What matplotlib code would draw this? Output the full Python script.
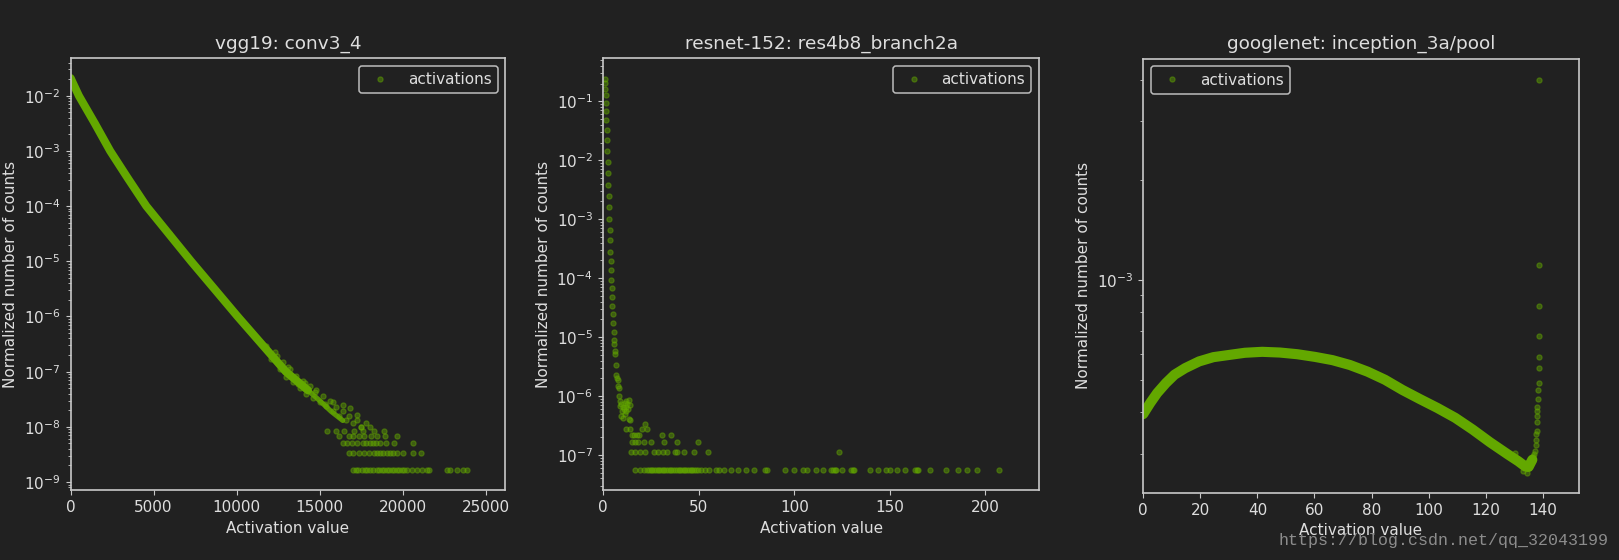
import matplotlib
matplotlib.use("Agg")
import matplotlib.pyplot as plt

# ---------------- text ----------------
titles = ["vgg19: conv3_4", "resnet-152: res4b8_branch2a", "googlenet: inception_3a/pool"]
x_label = "Activation value"
y_label = "Normalized number of counts"
legend_label = "activations"
watermark = "https://blog.csdn.net/qq_32043199"

# ---------------- panel 1: vgg19 ----------------
vgg_band_x = [0, 500, 1450, 2386, 3450, 4565, 5900, 7262, 8650, 10064, 11500, 12969, 14300]
vgg_band_y = [2.1e-2, 1.0e-2, 3.2e-3, 1.0e-3, 3.2e-4, 1.0e-4, 3.2e-5, 1.0e-5, 3.2e-6,
              1.0e-6, 3.2e-7, 1.0e-7, 4.6e-8]
vgg_band_end_x = [14300, 15000, 15700, 16400]
vgg_band_end_y = [4.6e-8, 3.0e-8, 1.9e-8, 1.3e-8]
vgg_cloud_x = [11800, 12100, 12300, 12600, 12800, 13000, 13200, 13400, 13600, 13800, 14000,
               14200, 14400, 14600, 14800, 15000, 15200, 15400, 15600, 15800, 16000, 16200,
               16400, 16600, 16800, 17000, 17250, 17500, 17800, 15790, 16390, 16830, 17270,
               17470, 18040, 12450, 13100, 13700, 14100, 14700, 15300]
vgg_cloud_y = [2.9e-7, 1.7e-7, 2.3e-7, 1.1e-7, 1.5e-7, 8.0e-8, 1.1e-7, 6.5e-8, 8.5e-8, 5.0e-8,
               6.8e-8, 4.0e-8, 5.6e-8, 3.4e-8, 4.6e-8, 2.8e-8, 3.6e-8, 2.4e-8, 3.0e-8, 1.9e-8,
               2.3e-8, 1.6e-8, 1.9e-8, 1.35e-8, 1.55e-8, 1.18e-8, 1.35e-8, 1.01e-8, 1.18e-8,
               2.84e-8, 2.48e-8, 2.17e-8, 1.65e-8, 1.01e-8, 1.01e-8, 1.9e-7, 1.2e-7, 6.0e-8,
               6.2e-8, 4.2e-8, 2.6e-8]
vgg_levels = [1.68e-9, 3.36e-9, 5.04e-9, 6.72e-9, 8.4e-9]
vgg_lvl1_x = [17032, 17180, 17333, 17530, 17735, 17880, 18036, 18240, 18438, 18600, 18739,
              18900, 19040, 19200, 19341, 19500, 19642, 19800, 19943, 20100, 20245, 20546,
              20847, 21148, 21450, 21610, 22654, 22855, 23297, 23618, 23859]
vgg_lvl2_x = [16791, 16992, 17393, 17675, 17996, 18277, 18478, 18650, 18799, 19080, 19260,
              19442, 19683, 20004, 20606, 21088]
vgg_lvl3_x = [16389, 16671, 16932, 17273, 17594, 17800, 18036, 18200, 18397, 18638, 18999,
              19482, 20646]
vgg_lvl4_x = [16169, 16751, 17000, 17400, 17700, 18100, 18478, 18940, 19683]
vgg_lvl5_x = [15466, 15968, 16500, 17100, 17600, 18277, 18879]

# ---------------- panel 2: resnet-152 ----------------
res_stack_x = [0.90, 1.08, 1.08, 1.26, 1.26, 1.44, 1.62, 1.80, 1.98, 2.16, 2.34, 2.52, 2.70,
               2.88, 3.06, 3.24, 3.42, 3.60, 3.78, 3.96, 4.14, 4.32,
               4.4, 4.5, 4.7, 4.9, 5.2, 5.4, 5.6, 5.8, 5.9, 6.1, 6.5, 6.8, 7.2, 7.6, 7.7, 8.1, 8.5]
res_stack_y = [0.239, 0.205, 0.162, 0.126, 0.094, 0.068, 0.0476, 0.0326, 0.0218, 0.0142,
               0.0092, 0.0060, 0.00385, 0.00244, 0.00158, 0.00102, 6.6e-4, 4.4e-4, 2.8e-4,
               1.92e-4, 1.35e-4, 9.4e-5,
               6.7e-5, 4.84e-5, 3.37e-5, 2.44e-5, 1.75e-5, 1.21e-5, 9.0e-6, 7.6e-6, 5.9e-6,
               5.2e-6, 3.33e-6, 2.23e-6, 2.04e-6, 1.86e-6, 1.48e-6, 1.38e-6, 1.0e-6]
res_cluster_x = [8.8, 9.4, 10.3, 11.2, 12.1, 13.3, 9.4, 10.3, 11.2, 12.1, 13.0, 13.9, 13.5,
                 14.2, 9.0, 9.9, 10.8, 11.7, 12.6]
res_cluster_y = [8.2e-7, 7.2e-7, 6.4e-7, 7.7e-7, 8.2e-7, 8.5e-7, 4.6e-7, 4.3e-7, 4.9e-7,
                 5.6e-7, 6.0e-7, 7.0e-7, 4.05e-7, 3.9e-7, 6.8e-7, 5.5e-7, 6.0e-7, 6.6e-7, 7.3e-7]
res_levels = [5.5e-8, 1.1e-7, 1.65e-7, 2.2e-7, 2.75e-7, 3.3e-7]
res_lvl1_x = [16.6, 19.3, 21.1, 22.9, 23.8, 24.8, 25.7, 26.6, 27.5, 28.4, 29.3, 30.2, 31.1,
              32.0, 33.0, 33.9, 34.8, 35.7, 36.6, 37.5, 38.5, 39.4, 40.3, 41.2, 42.1, 43.0,
              44.0, 44.9, 45.8, 46.7, 47.6, 48.6, 49.5, 51.0, 53.5, 55.3, 58.9, 60.5, 63.4,
              67.0, 70.6, 74.6, 78.9, 84.7, 85.9, 95.1, 99.6, 104.3, 106.7, 111.2, 114.8,
              119.3, 120.2, 121.1, 122.0, 124.7, 129.5, 130.5, 131.0, 139.6, 143.6, 148.1,
              149.9, 153.5, 158.0, 163.1, 164.3, 164.9, 171.0, 179.5, 185.4, 190.6, 195.7, 207.2]
res_lvl2_x = [14.4, 16.6, 19.3, 22.0, 26.5, 28.6, 31.5, 33.3, 37.3, 38.7, 42.3, 47.7, 54.8, 123.4]
res_lvl3_x = [15.1, 16.6, 18.4, 21.1, 25.0, 31.9, 38.7, 49.7]
res_lvl4_x = [15.1, 16.2, 17.5, 18.6, 30.9, 35.7]
res_lvl5_x = [12.1, 13.9, 20.5, 22.9]
res_lvl6_x = [22.0]

# ---------------- panel 3: googlenet ----------------
goog_band_x = [0, 2.5, 4.9, 8.0, 11.0, 14.7, 19.6, 24.6, 29.5, 35.6, 41.7, 47.9, 54.0, 60.2,
               66.3, 72.4, 78.6, 84.7, 90.8, 97.0, 103.1, 109.3, 115.4, 121.5, 127.7, 131.4,
               133.8, 135.0, 136.3]
goog_band_y = [3.95e-4, 4.27e-4, 4.57e-4, 4.90e-4, 5.19e-4, 5.43e-4, 5.69e-4, 5.86e-4,
               5.94e-4, 6.04e-4, 6.08e-4, 6.05e-4, 5.98e-4, 5.87e-4, 5.74e-4, 5.55e-4,
               5.30e-4, 5.01e-4, 4.67e-4, 4.38e-4, 4.12e-4, 3.85e-4, 3.55e-4, 3.25e-4,
               2.99e-4, 2.85e-4, 2.75e-4, 2.74e-4, 2.88e-4]
goog_spike_x = [133.0, 134.5, 130.4, 136.6, 136.9, 137.2, 137.5, 137.6, 137.7, 137.9, 137.9,
                138.0, 138.1, 138.1, 138.2, 138.3, 138.5, 138.6, 138.6, 138.7, 138.7, 138.8, 138.8]
goog_spike_y = [2.66e-4, 2.62e-4, 3.02e-4, 2.95e-4, 3.0e-4, 3.05e-4, 3.20e-4, 3.31e-4,
                3.45e-4, 3.51e-4, 3.73e-4, 3.89e-4, 4.03e-4, 4.14e-4, 4.38e-4, 4.67e-4,
                4.91e-4, 5.43e-4, 5.86e-4, 6.78e-4, 8.36e-4, 1.11e-3, 4.0e-3]

# ---------------- style ----------------
BG = "#212121"
FG = "#dedede"
SPINE = "#c8c8c8"
GREEN = "#63a800"
FS = 11
plt.rcParams["font.family"] = ["DejaVu Sans"]

fig = plt.figure(figsize=(16.19, 5.6), dpi=100, facecolor=BG)
ax1 = fig.add_axes([0.0436, 0.1245, 0.2686, 0.7714])
ax2 = fig.add_axes([0.3726, 0.1245, 0.2691, 0.7714])
ax3 = fig.add_axes([0.7061, 0.1200, 0.2691, 0.7750])

dot = dict(ls="none", marker="o", ms=3.7, mew=0.9, color=GREEN, alpha=0.45)


def style(ax, title):
    ax.set_facecolor(BG)
    ax.set_yscale("log")
    for s in ax.spines.values():
        s.set_color(SPINE)
        s.set_linewidth(1.2)
    ax.tick_params(which="both", colors=SPINE, labelcolor=FG, labelsize=FS)
    ax.tick_params(which="major", length=3.8)
    ax.tick_params(which="minor", length=2.2)
    ax.set_title(title, color=FG, fontsize=13.3, pad=7)
    ax.set_xlabel(x_label, color=FG, fontsize=FS)
    ax.set_ylabel(y_label, color=FG, fontsize=FS)


def legend(ax, loc):
    lg = ax.legend(loc=loc, fontsize=FS, facecolor=BG, edgecolor="#bdbdbd", framealpha=1.0,
                   labelcolor=FG)
    lg.get_frame().set_linewidth(1.1)


def rows(ax, levels, xs_list):
    for lvl, xs in zip(levels, xs_list):
        ax.plot(xs, [lvl] * len(xs), **dot)


# panel 1
style(ax1, titles[0])
ax1.plot(vgg_band_x, vgg_band_y, color=GREEN, lw=5.8, solid_capstyle="round")
ax1.plot(vgg_band_end_x, vgg_band_end_y, color=GREEN, lw=3.6, alpha=0.85,
         solid_capstyle="round")
ax1.plot(vgg_band_x, vgg_band_y, label=legend_label, **dot)
ax1.plot(vgg_cloud_x, vgg_cloud_y, **dot)
rows(ax1, vgg_levels, [vgg_lvl1_x, vgg_lvl2_x, vgg_lvl3_x, vgg_lvl4_x, vgg_lvl5_x])
ax1.set_xlim(0, 26200)
ax1.set_ylim(10 ** -9.15, 10 ** -1.32)
legend(ax1, "upper right")

# panel 2
style(ax2, titles[1])
ax2.plot(res_stack_x, res_stack_y, label=legend_label, **dot)
ax2.plot(res_cluster_x, res_cluster_y, **dot)
rows(ax2, res_levels, [res_lvl1_x, res_lvl2_x, res_lvl3_x, res_lvl4_x, res_lvl5_x, res_lvl6_x])
ax2.set_xlim(0, 228)
ax2.set_ylim(10 ** -7.60, 10 ** -0.27)
legend(ax2, "upper right")

# panel 3
style(ax3, titles[2])
ax3.plot(goog_band_x, goog_band_y, color=GREEN, lw=7.3, solid_capstyle="round")
ax3.plot(goog_band_x, goog_band_y, label=legend_label, **dot)
ax3.plot(goog_spike_x, goog_spike_y, **dot)
ax3.set_xlim(0, 152.6)
ax3.set_ylim(10 ** -3.64, 10 ** -2.335)
legend(ax3, "upper left")

fig.text(1278 / 1619, 1 - 540 / 560, watermark, ha="left", va="center",
         color="#8c8c8c", fontsize=12, family=["Liberation Mono", "DejaVu Sans Mono"])

fig.savefig("out.png", dpi=100, facecolor=BG)
